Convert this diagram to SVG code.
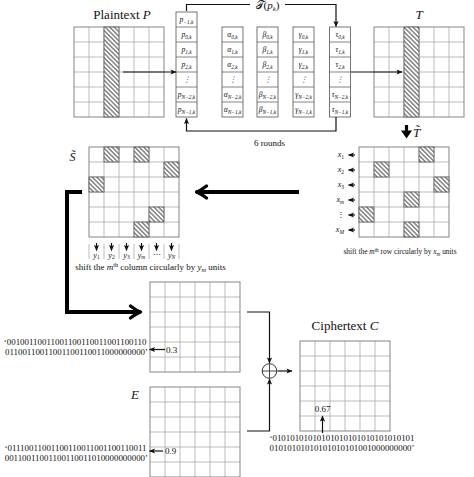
<svg xmlns="http://www.w3.org/2000/svg" xmlns:xlink="http://www.w3.org/1999/xlink" width="474" height="477" viewBox="0 0 474 477">
<style>
text{font-family:"Liberation Serif","DejaVu Serif",serif;fill:#111}
.it{font-style:italic}
.lbl{font-size:13px}
.cell{font-size:7.6px;font-style:italic}
.sub{font-size:5.4px}
.bin{font-size:8.9px}
.thin{fill:none;stroke:#111;stroke-width:1.2}
.thick{fill:none;stroke:#000;stroke-width:4}
.col{fill:#fff;stroke:#666;stroke-width:0.9}
.hat{fill:url(#hatch);stroke:#555;stroke-width:0.8}
.tick{stroke:#aaa;stroke-width:0.8}
</style>
<defs>
<pattern id="hatch" patternUnits="userSpaceOnUse" width="3.2" height="10" patternTransform="rotate(-45)">
<rect width="3.2" height="10" fill="#fff"/>
<line x1="0.8" y1="0" x2="0.8" y2="10" stroke="#222" stroke-width="0.85"/>
</pattern>
<g id="g6">
<rect width="90" height="90" fill="#fff"/>
<path d="M15,0V90M30,0V90M45,0V90M60,0V90M75,0V90M0,15H90M0,30H90M0,45H90M0,60H90M0,75H90" stroke="#aaa" stroke-width="0.8" fill="none"/>
<rect width="90" height="90" fill="none" stroke="#858585" stroke-width="1"/>
</g>
<marker id="ah" viewBox="-7 -4 8 8" refX="0" refY="0" markerWidth="8" markerHeight="8" markerUnits="userSpaceOnUse" orient="auto">
<path d="M0.5,0 L-5.5,-2.6 L-4.2,0 L-5.5,2.6 z" fill="#111"/>
</marker>
<marker id="ahb" viewBox="-13 -8 15 16" refX="0" refY="0" markerWidth="15" markerHeight="16" markerUnits="userSpaceOnUse" orient="auto">
<path d="M-10,-6 Q-4,-1.5 0,0 Q-4,1.5 -10,6" fill="none" stroke="#000" stroke-width="3.2" stroke-linecap="round" stroke-linejoin="round"/>
</marker>
</defs>
<rect width="474" height="477" fill="#fff"/>

<g id="plaintext">
<use xlink:href="#g6" x="74" y="27"/>
<rect class="hat" x="104" y="27" width="15" height="90"/>
<text class="lbl" x="122" y="18.5" text-anchor="middle">Plaintext <tspan class="it">P</tspan></text>
</g>

<g id="col-p">
<rect class="col" x="176" y="12" width="21" height="105"/>
<path d="M176,27H197M176,42H197M176,57H197M176,72H197M176,87H197M176,102H197" stroke="#666" stroke-width="0.8"/>
<text class="cell" x="186.5" y="22" text-anchor="middle">p<tspan class="sub" dy="1.5">−1,k</tspan></text>
<text class="cell" x="186.5" y="37" text-anchor="middle">p<tspan class="sub" dy="1.5">0,k</tspan></text>
<text class="cell" x="186.5" y="52" text-anchor="middle">p<tspan class="sub" dy="1.5">1,k</tspan></text>
<text class="cell" x="186.5" y="67" text-anchor="middle">p<tspan class="sub" dy="1.5">2,k</tspan></text>
<text class="cell" x="186.5" y="82" text-anchor="middle" font-style="normal">⋮</text>
<text class="cell" x="186.5" y="97" text-anchor="middle">p<tspan class="sub" dy="1.5">N−2,k</tspan></text>
<text class="cell" x="186.5" y="112" text-anchor="middle">p<tspan class="sub" dy="1.5">N−1,k</tspan></text>
</g>

<g id="col-alpha">
<rect class="col" x="222" y="27" width="21" height="90"/>
<path d="M222,42H243M222,57H243M222,72H243M222,87H243M222,102H243" stroke="#666" stroke-width="0.8"/>
<text class="cell" x="232.5" y="37" text-anchor="middle">α<tspan class="sub" dy="1.5">0,k</tspan></text>
<text class="cell" x="232.5" y="52" text-anchor="middle">α<tspan class="sub" dy="1.5">1,k</tspan></text>
<text class="cell" x="232.5" y="67" text-anchor="middle">α<tspan class="sub" dy="1.5">2,k</tspan></text>
<text class="cell" x="232.5" y="82" text-anchor="middle" font-style="normal">⋮</text>
<text class="cell" x="232.5" y="97" text-anchor="middle">α<tspan class="sub" dy="1.5">N−2,k</tspan></text>
<text class="cell" x="232.5" y="112" text-anchor="middle">α<tspan class="sub" dy="1.5">N−1,k</tspan></text>
</g>

<g id="col-beta">
<rect class="col" x="257" y="27" width="21" height="90"/>
<path d="M257,42H278M257,57H278M257,72H278M257,87H278M257,102H278" stroke="#666" stroke-width="0.8"/>
<text class="cell" x="267.5" y="37" text-anchor="middle">β<tspan class="sub" dy="1.5">0,k</tspan></text>
<text class="cell" x="267.5" y="52" text-anchor="middle">β<tspan class="sub" dy="1.5">1,k</tspan></text>
<text class="cell" x="267.5" y="67" text-anchor="middle">β<tspan class="sub" dy="1.5">2,k</tspan></text>
<text class="cell" x="267.5" y="82" text-anchor="middle" font-style="normal">⋮</text>
<text class="cell" x="267.5" y="97" text-anchor="middle">β<tspan class="sub" dy="1.5">N−2,k</tspan></text>
<text class="cell" x="267.5" y="112" text-anchor="middle">β<tspan class="sub" dy="1.5">N−1,k</tspan></text>
</g>

<g id="col-gamma">
<rect class="col" x="293" y="27" width="21" height="90"/>
<path d="M293,42H314M293,57H314M293,72H314M293,87H314M293,102H314" stroke="#666" stroke-width="0.8"/>
<text class="cell" x="303.5" y="37" text-anchor="middle">γ<tspan class="sub" dy="1.5">0,k</tspan></text>
<text class="cell" x="303.5" y="52" text-anchor="middle">γ<tspan class="sub" dy="1.5">1,k</tspan></text>
<text class="cell" x="303.5" y="67" text-anchor="middle">γ<tspan class="sub" dy="1.5">2,k</tspan></text>
<text class="cell" x="303.5" y="82" text-anchor="middle" font-style="normal">⋮</text>
<text class="cell" x="303.5" y="97" text-anchor="middle">γ<tspan class="sub" dy="1.5">N−2,k</tspan></text>
<text class="cell" x="303.5" y="112" text-anchor="middle">γ<tspan class="sub" dy="1.5">N−1,k</tspan></text>
</g>

<g id="col-tau">
<rect class="col" x="329.5" y="27" width="21" height="90"/>
<path d="M329.5,42H350.5M329.5,57H350.5M329.5,72H350.5M329.5,87H350.5M329.5,102H350.5" stroke="#666" stroke-width="0.8"/>
<text class="cell" x="340" y="37" text-anchor="middle">τ<tspan class="sub" dy="1.5">0,k</tspan></text>
<text class="cell" x="340" y="52" text-anchor="middle">τ<tspan class="sub" dy="1.5">1,k</tspan></text>
<text class="cell" x="340" y="67" text-anchor="middle">τ<tspan class="sub" dy="1.5">2,k</tspan></text>
<text class="cell" x="340" y="82" text-anchor="middle" font-style="normal">⋮</text>
<text class="cell" x="340" y="97" text-anchor="middle">τ<tspan class="sub" dy="1.5">N−2,k</tspan></text>
<text class="cell" x="340" y="112" text-anchor="middle">τ<tspan class="sub" dy="1.5">N−1,k</tspan></text>
</g>

<g id="T">
<use xlink:href="#g6" x="374" y="27"/>
<rect class="hat" x="404" y="27" width="15" height="90"/>
<text class="lbl it" x="419" y="19" text-anchor="middle">T</text>
</g>

<g id="T-tilde">
<use xlink:href="#g6" x="359" y="147"/>
<rect class="hat" x="419" y="147" width="15" height="15"/>
<rect class="hat" x="374" y="162" width="15" height="15"/>
<rect class="hat" x="434" y="177" width="15" height="15"/>
<rect class="hat" x="404" y="192" width="15" height="15"/>
<rect class="hat" x="359" y="207" width="15" height="15"/>
<rect class="hat" x="404" y="222" width="15" height="15"/>
<text class="lbl it" x="413" y="136.5" font-size="12">T̃</text>
<g font-size="8">
<text x="344" y="157" text-anchor="end"><tspan class="it">x</tspan><tspan font-size="5.5" dy="1.5">1</tspan></text>
<text x="344" y="172" text-anchor="end"><tspan class="it">x</tspan><tspan font-size="5.5" dy="1.5">2</tspan></text>
<text x="344" y="187" text-anchor="end"><tspan class="it">x</tspan><tspan font-size="5.5" dy="1.5">3</tspan></text>
<text x="344" y="202" text-anchor="end"><tspan class="it">x</tspan><tspan font-size="5.5" dy="1.5" class="it">m</tspan></text>
<text x="341" y="217" text-anchor="middle">⋮</text>
<text x="344" y="232" text-anchor="end"><tspan class="it">x</tspan><tspan font-size="5.5" dy="1.5" class="it">M</tspan></text>
</g>
<text x="400" y="254" text-anchor="middle" font-size="7.4">shift the <tspan class="it">m</tspan><tspan font-size="5.2" dy="-2.5">th</tspan><tspan dy="2.5"> row circularly by </tspan><tspan class="it">x</tspan><tspan class="it" font-size="5.2" dy="1.5">m</tspan><tspan dy="-1.5"> units</tspan></text>
</g>

<g id="S-tilde">
<use xlink:href="#g6" x="89" y="147"/>
<rect class="hat" x="104" y="147" width="15" height="15"/>
<rect class="hat" x="134" y="147" width="15" height="15"/>
<rect class="hat" x="164" y="162" width="15" height="15"/>
<rect class="hat" x="89" y="177" width="15" height="15"/>
<rect class="hat" x="149" y="207" width="15" height="15"/>
<rect class="hat" x="134" y="222" width="15" height="15"/>
<text class="it" x="72.5" y="161" font-size="12" text-anchor="middle">S̃</text>
<path class="tick" d="M89,244V259M104,244V259M119,244V259M134,244V259M149,244V259M164,244V259M179,244V259"/>
<g font-size="8" text-anchor="middle">
<text x="96.5" y="258"><tspan class="it">y</tspan><tspan font-size="5.5" dy="1">1</tspan></text>
<text x="111.5" y="258"><tspan class="it">y</tspan><tspan font-size="5.5" dy="1">2</tspan></text>
<text x="126.5" y="258"><tspan class="it">y</tspan><tspan font-size="5.5" dy="1">3</tspan></text>
<text x="141.5" y="258"><tspan class="it">y</tspan><tspan font-size="5.5" dy="1" class="it">m</tspan></text>
<text x="156.5" y="257">⋯</text>
<text x="171.5" y="258"><tspan class="it">y</tspan><tspan font-size="5.5" dy="1" class="it">N</tspan></text>
</g>
<text x="150.5" y="270" text-anchor="middle" font-size="9">shift the <tspan class="it">m</tspan><tspan font-size="6.3" dy="-3">th</tspan><tspan dy="3"> column circularly by </tspan><tspan class="it">y</tspan><tspan class="it" font-size="6.3" dy="1.5">m</tspan><tspan dy="-1.5"> units</tspan></text>
</g>

<g id="key-grid">
<use xlink:href="#g6" x="150" y="282"/>
<text class="bin" x="146.5" y="345" text-anchor="end">‘00100110011001100110011001100110</text>
<text class="bin" x="148" y="354.5" text-anchor="end">01100110011001100110011000000000’</text>
<text x="166" y="352.5" font-size="9">0.3</text>
</g>

<g id="E">
<use xlink:href="#g6" x="150" y="387"/>
<text class="lbl it" x="135" y="399" text-anchor="middle">E</text>
<text class="bin" x="146.5" y="450.5" text-anchor="end">‘01110011001100110011001100110011</text>
<text class="bin" x="148" y="460.5" text-anchor="end">00110011001100110011010000000000’</text>
<text x="165" y="454" font-size="9">0.9</text>
</g>

<g id="xor">
<circle cx="269.5" cy="371" r="7.3" fill="#fff" stroke="#333" stroke-width="1"/>
<path d="M262.2,371H276.8M269.5,363.7V378.3" stroke="#333" stroke-width="0.9"/>
</g>

<g id="ciphertext">
<use xlink:href="#g6" x="300" y="341"/>
<text class="lbl" x="345" y="330" text-anchor="middle">Ciphertext <tspan class="it">C</tspan></text>
<text x="322.5" y="412" font-size="9" text-anchor="middle">0.67</text>
<text class="bin" x="269.5" y="441">‘01010101010101010101010101010101</text>
<text class="bin" x="269.5" y="451">01010101010101010101001000000000’</text>
</g>

<g id="connectors">
<path class="thin" d="M123,72H176" marker-end="url(#ah)"/>
<path class="thin" d="M186.5,11V4.5H336V26.5" marker-end="url(#ah)"/>
<rect x="250" y="0" width="35" height="12" fill="#fff"/>
<text x="267.5" y="9" font-size="11" text-anchor="middle">𝒯(<tspan class="it">p</tspan><tspan class="it" font-size="7" dy="2">k</tspan><tspan dy="-2">)</tspan></text>
<path class="thin" d="M336,117V131H186.5V118.5" marker-end="url(#ah)"/>
<text x="269.5" y="146" font-size="9" text-anchor="middle">6 rounds</text>
<path class="thin" d="M351,72H402" marker-end="url(#ah)"/>
<path d="M406.5,125V132" stroke="#000" stroke-width="3.2" fill="none"/>
<path d="M401,130.5H412L406.5,138.5z" fill="#000"/>
<path class="thick" d="M299,192H196.5" marker-end="url(#ahb)"/>
<path class="thick" d="M82,192H67V312H140.5" marker-end="url(#ahb)"/>
<g class="thin">
<path d="M355,155H348.5" marker-end="url(#ah)"/>
<path d="M355,170H348.5" marker-end="url(#ah)"/>
<path d="M355,185H348.5" marker-end="url(#ah)"/>
<path d="M355,200H348.5" marker-end="url(#ah)"/>
<path d="M355,215H348.5" marker-end="url(#ah)"/>
<path d="M355,230H348.5" marker-end="url(#ah)"/>
<path d="M96.5,243V250.5" marker-end="url(#ah)"/>
<path d="M111.5,243V250.5" marker-end="url(#ah)"/>
<path d="M126.5,243V250.5" marker-end="url(#ah)"/>
<path d="M141.5,243V250.5" marker-end="url(#ah)"/>
<path d="M156.5,243V250.5" marker-end="url(#ah)"/>
<path d="M171.5,243V250.5" marker-end="url(#ah)"/>
</g>
<path class="thin" d="M165,349.5H149.5" marker-end="url(#ah)"/>
<path class="thin" d="M163,451H149.5" marker-end="url(#ah)"/>
<path class="thin" d="M247,312H269.5V363" marker-end="url(#ah)"/>
<path class="thin" d="M247,431H269.5V379" marker-end="url(#ah)"/>
<path class="thin" d="M277.5,371H292" marker-end="url(#ah)"/>
<path class="thin" d="M322.5,433V416" marker-end="url(#ah)"/>
</g>
</svg>
